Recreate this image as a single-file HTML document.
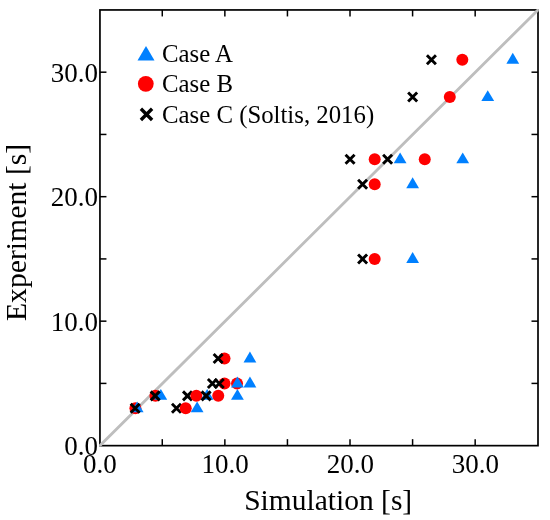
<!DOCTYPE html>
<html><head><meta charset="utf-8"><title>Simulation vs Experiment</title>
<style>
html,body{margin:0;padding:0;background:#fff;}
body{width:550px;height:520px;overflow:hidden;}
svg{display:block;}
text{font-family:"Liberation Serif","Times New Roman",serif;fill:#000;}
</style></head><body>
<svg width="550" height="520" viewBox="0 0 550 520">
<rect x="0" y="0" width="550" height="520" fill="#fff"/>
<g stroke="#000" stroke-width="1.5">
<line x1="162.28" y1="445.65" x2="162.28" y2="439.15"/>
<line x1="162.28" y1="9.95" x2="162.28" y2="16.45"/>
<line x1="99.95" y1="383.41" x2="106.45" y2="383.41"/>
<line x1="538.0" y1="383.41" x2="531.5" y2="383.41"/>
<line x1="224.86" y1="445.65" x2="224.86" y2="439.15"/>
<line x1="224.86" y1="9.95" x2="224.86" y2="16.45"/>
<line x1="99.95" y1="321.16" x2="106.45" y2="321.16"/>
<line x1="538.0" y1="321.16" x2="531.5" y2="321.16"/>
<line x1="287.44" y1="445.65" x2="287.44" y2="439.15"/>
<line x1="287.44" y1="9.95" x2="287.44" y2="16.45"/>
<line x1="99.95" y1="258.92" x2="106.45" y2="258.92"/>
<line x1="538.0" y1="258.92" x2="531.5" y2="258.92"/>
<line x1="350.01" y1="445.65" x2="350.01" y2="439.15"/>
<line x1="350.01" y1="9.95" x2="350.01" y2="16.45"/>
<line x1="99.95" y1="196.68" x2="106.45" y2="196.68"/>
<line x1="538.0" y1="196.68" x2="531.5" y2="196.68"/>
<line x1="412.59" y1="445.65" x2="412.59" y2="439.15"/>
<line x1="412.59" y1="9.95" x2="412.59" y2="16.45"/>
<line x1="99.95" y1="134.44" x2="106.45" y2="134.44"/>
<line x1="538.0" y1="134.44" x2="531.5" y2="134.44"/>
<line x1="475.17" y1="445.65" x2="475.17" y2="439.15"/>
<line x1="475.17" y1="9.95" x2="475.17" y2="16.45"/>
<line x1="99.95" y1="72.19" x2="106.45" y2="72.19"/>
<line x1="538.0" y1="72.19" x2="531.5" y2="72.19"/>
</g>
<rect x="99.95" y="9.95" width="438.05" height="435.70" fill="none" stroke="#000" stroke-width="1.7"/>
<clipPath id="fc"><rect x="99.10" y="9.10" width="439.75" height="437.40"/></clipPath>
<line x1="99.95" y1="445.65" x2="538.0" y2="9.95" stroke="#bebebe" stroke-width="2.8" stroke-linecap="square" clip-path="url(#fc)"/>
<path d="M171.97 403.80L180.97 412.80M171.97 412.80L180.97 403.80" stroke="#000" stroke-width="2.9" fill="none"/>
<path d="M182.99 391.36L191.99 400.36M182.99 400.36L191.99 391.36" stroke="#000" stroke-width="2.9" fill="none"/>
<circle cx="135.40" cy="408.30" r="6.0" fill="#ff0000"/>
<circle cx="155.42" cy="395.86" r="6.0" fill="#ff0000"/>
<circle cx="185.71" cy="408.30" r="6.0" fill="#ff0000"/>
<circle cx="196.35" cy="395.86" r="6.0" fill="#ff0000"/>
<circle cx="218.25" cy="395.86" r="6.0" fill="#ff0000"/>
<circle cx="224.51" cy="383.41" r="6.0" fill="#ff0000"/>
<circle cx="237.02" cy="383.41" r="6.0" fill="#ff0000"/>
<circle cx="224.51" cy="358.51" r="6.0" fill="#ff0000"/>
<circle cx="374.70" cy="159.33" r="6.0" fill="#ff0000"/>
<circle cx="374.70" cy="184.23" r="6.0" fill="#ff0000"/>
<circle cx="374.70" cy="258.92" r="6.0" fill="#ff0000"/>
<circle cx="424.76" cy="159.33" r="6.0" fill="#ff0000"/>
<circle cx="449.79" cy="97.09" r="6.0" fill="#ff0000"/>
<circle cx="462.31" cy="59.74" r="6.0" fill="#ff0000"/>
<polygon points="137.17,401.40 130.77,412.30 143.57,412.30" fill="#0080ff"/>
<polygon points="160.83,388.96 154.43,399.86 167.23,399.86" fill="#0080ff"/>
<polygon points="197.12,401.40 190.72,412.30 203.52,412.30" fill="#0080ff"/>
<polygon points="207.13,388.96 200.73,399.86 213.53,399.86" fill="#0080ff"/>
<polygon points="237.42,388.96 231.02,399.86 243.82,399.86" fill="#0080ff"/>
<polygon points="237.42,376.51 231.02,387.41 243.82,387.41" fill="#0080ff"/>
<polygon points="249.94,376.51 243.54,387.41 256.34,387.41" fill="#0080ff"/>
<polygon points="249.94,351.61 243.54,362.51 256.34,362.51" fill="#0080ff"/>
<polygon points="400.13,152.43 393.73,163.33 406.53,163.33" fill="#0080ff"/>
<polygon points="412.64,177.33 406.24,188.23 419.04,188.23" fill="#0080ff"/>
<polygon points="412.64,252.02 406.24,262.92 419.04,262.92" fill="#0080ff"/>
<polygon points="462.71,152.43 456.31,163.33 469.11,163.33" fill="#0080ff"/>
<polygon points="487.74,90.19 481.34,101.09 494.14,101.09" fill="#0080ff"/>
<polygon points="512.77,52.84 506.37,63.74 519.17,63.74" fill="#0080ff"/>
<path d="M130.67 403.80L139.67 412.80M130.67 412.80L139.67 403.80" stroke="#000" stroke-width="2.9" fill="none"/>
<path d="M150.69 391.36L159.69 400.36M150.69 400.36L159.69 391.36" stroke="#000" stroke-width="2.9" fill="none"/>
<path d="M201.63 391.36L210.63 400.36M201.63 400.36L210.63 391.36" stroke="#000" stroke-width="2.9" fill="none"/>
<path d="M207.89 378.91L216.89 387.91M207.89 387.91L216.89 378.91" stroke="#000" stroke-width="2.9" fill="none"/>
<path d="M214.78 378.91L223.78 387.91M214.78 387.91L223.78 378.91" stroke="#000" stroke-width="2.9" fill="none"/>
<path d="M213.65 354.01L222.65 363.01M213.65 363.01L222.65 354.01" stroke="#000" stroke-width="2.9" fill="none"/>
<path d="M345.56 154.83L354.56 163.83M345.56 163.83L354.56 154.83" stroke="#000" stroke-width="2.9" fill="none"/>
<path d="M358.08 179.73L367.08 188.73M358.08 188.73L367.08 179.73" stroke="#000" stroke-width="2.9" fill="none"/>
<path d="M358.08 254.42L367.08 263.42M358.08 263.42L367.08 254.42" stroke="#000" stroke-width="2.9" fill="none"/>
<path d="M383.11 154.83L392.11 163.83M383.11 163.83L392.11 154.83" stroke="#000" stroke-width="2.9" fill="none"/>
<path d="M408.14 92.59L417.14 101.59M408.14 101.59L417.14 92.59" stroke="#000" stroke-width="2.9" fill="none"/>
<path d="M426.92 55.24L435.92 64.24M426.92 64.24L435.92 55.24" stroke="#000" stroke-width="2.9" fill="none"/>
<text x="99.95" y="472.5" font-size="27" text-anchor="middle">0.0</text>
<text x="97.9" y="455.05" font-size="27" text-anchor="end">0.0</text>
<text x="225.11" y="472.5" font-size="27" text-anchor="middle">10.0</text>
<text x="97.9" y="330.56" font-size="27" text-anchor="end">10.0</text>
<text x="350.26" y="472.5" font-size="27" text-anchor="middle">20.0</text>
<text x="97.9" y="206.08" font-size="27" text-anchor="end">20.0</text>
<text x="475.42" y="472.5" font-size="27" text-anchor="middle">30.0</text>
<text x="97.9" y="81.59" font-size="27" text-anchor="end">30.0</text>
<text x="328.2" y="509.8" font-size="29.5" text-anchor="middle">Simulation [s]</text>
<text transform="translate(26.3,232.4) rotate(-90)" font-size="29.7" text-anchor="middle">Experiment [s]</text>
<polygon points="146.00,46.00 137.50,60.40 154.50,60.40" fill="#0080ff"/>
<circle cx="145.80" cy="83.80" r="7.9" fill="#ff0000"/>
<path d="M140.90 108.80L152.10 120.00M140.90 120.00L152.10 108.80" stroke="#000" stroke-width="3.4" fill="none"/>
<text x="162" y="61.6" font-size="24.8">Case A</text>
<text x="162" y="92.2" font-size="24.8">Case B</text>
<text x="162" y="122.6" font-size="24.8">Case C (Soltis, 2016)</text>
</svg></body></html>
